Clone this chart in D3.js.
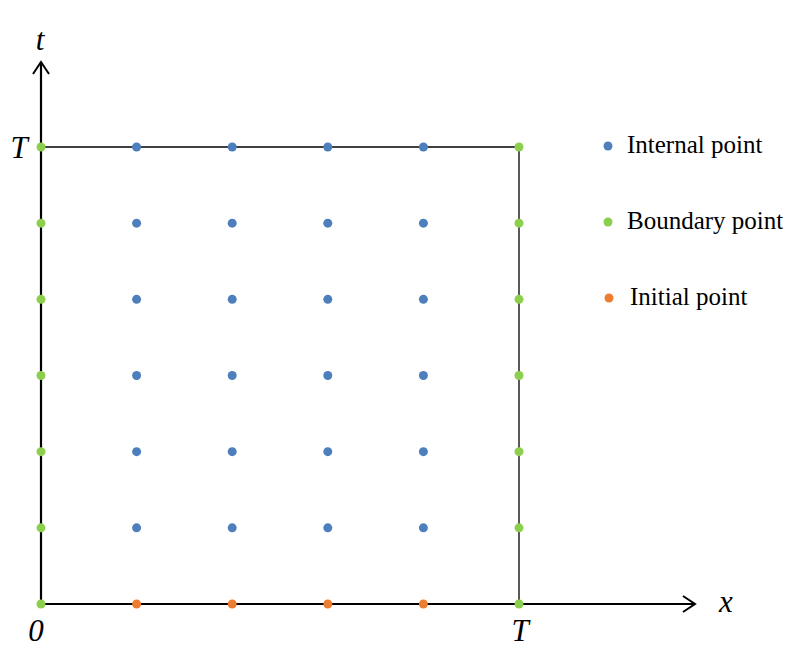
<!DOCTYPE html>
<html><head><meta charset="utf-8">
<script src="https://cdn.jsdelivr.net/npm/d3@7"></script>
<style>body{margin:0;background:#fff}</style></head>
<body><svg id="c" width="801" height="659"></svg>
<script>
const xIndex=[0,1,2,3,4,5];
const tIndex=[0,1,2,3,4,5,6];
const legendLabels=["Internal point","Boundary point","Initial point"];
const legendColors=["#4e7fbd","#8ccf4d","#ed7d31"];
const svg=d3.select("#c");
const x=d3.scaleLinear().domain([0,5]).range([41,519]);
const y=d3.scaleLinear().domain([0,6]).range([604,147]);
const pts=[];
for(const i of xIndex)for(const j of tIndex){
  let type;
  if(j===0&&i>0&&i<5)type=2;
  else if(i===0||i===5)type=1;
  else type=0;
  pts.push({i,j,type});
}
svg.append("line").attr("x1",x(0)).attr("x2",x(5)).attr("y1",y(6)).attr("y2",y(6)).attr("stroke","#000").attr("stroke-width",1.3);
svg.append("line").attr("x1",x(5)).attr("x2",x(5)).attr("y1",y(6)).attr("y2",y(0)).attr("stroke","#000").attr("stroke-width",1.3);
svg.append("line").attr("x1",x(0)).attr("x2",695).attr("y1",y(0)).attr("y2",y(0)).attr("stroke","#000").attr("stroke-width",2.2);
svg.append("line").attr("x1",x(0)).attr("x2",x(0)).attr("y1",y(0)).attr("y2",62).attr("stroke","#000").attr("stroke-width",2.2);
svg.append("path").attr("d",`M683,${y(0)-8}L695,${y(0)}L683,${y(0)+8}`).attr("fill","none").attr("stroke","#000").attr("stroke-width",2);
svg.append("path").attr("d",`M${x(0)-8},74L${x(0)},62L${x(0)+8},74`).attr("fill","none").attr("stroke","#000").attr("stroke-width",2);
svg.selectAll("circle.p").data(pts).join("circle").attr("class","p")
 .attr("cx",d=>x(d.i)).attr("cy",d=>y(d.j)).attr("r",4.5).attr("fill",d=>legendColors[d.type]);
const it={"font-family":"Liberation Serif, serif","font-style":"italic","font-size":31};
function txt(s,px,py,anchor){const t=svg.append("text").text(s).attr("x",px).attr("y",py).attr("text-anchor",anchor||"middle");for(const k in it)t.attr(k,it[k]);}
txt("t",40,50);txt("T",19,158);txt("x",726,612);txt("0",36,641);txt("T",520,641);
legendLabels.forEach((l,k)=>{
  const ly=146+k*76;
  svg.append("circle").attr("cx",608+(k===2?1:0)).attr("cy",ly).attr("r",4.5).attr("fill",legendColors[k]);
  svg.append("text").text(l).attr("x",627+(k===2?3:0)).attr("y",ly+7).attr("font-family","Liberation Serif, serif").attr("font-size",25);
});
</script></body></html>
